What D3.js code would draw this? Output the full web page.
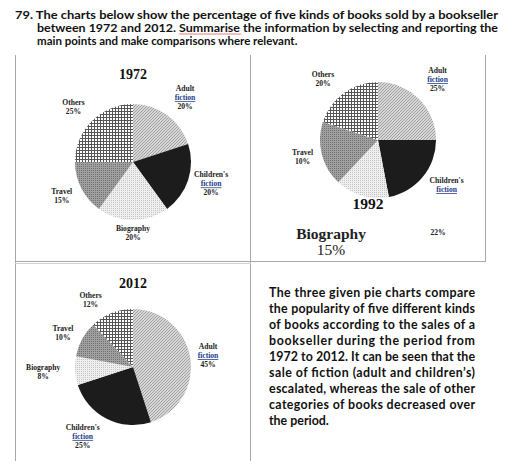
<!DOCTYPE html>
<html>
<head>
<meta charset="utf-8">
<script src="https://cdn.jsdelivr.net/npm/d3@7"></script>
<style>
  body { margin:0; background:#fff; }
  svg { display:block; }
</style>
</head>
<body>
<svg id="chart"></svg>
<script>
// data
var categories = ["Adult fiction", "Children's fiction", "Biography", "Travel", "Others"];
var nameLines = [["Adult","fiction"], ["Children's","fiction"], ["Biography"], ["Travel"], ["Others"]];

var values1972 = [20, 20, 20, 15, 25];
var labels1972 = ["20%", "20%", "20%", "15%", "25%"];

// 1992 slices as drawn (the travel label in the picture says 10%)
var values1992 = [25, 22, 15, 18, 20];
var labels1992 = ["25%", "22%", "15%", "10%", "20%"];

var values2012 = [45, 25, 8, 10, 12];
var labels2012 = ["45%", "25%", "8%", "10%", "12%"];

var titleLines = [
  "79. The charts below show the percentage of five kinds of books sold by a bookseller",
  "between 1972 and 2012. Summarise the information by selecting and reporting the",
  "main points and make comparisons where relevant."
];

var paragraph = [
  "The three given pie charts compare",
  "the popularity of five different kinds",
  "of books according to the sales of a",
  "bookseller during the period from",
  "1972 to 2012. It can be seen that the",
  "sale of fiction (adult and children\u2019s)",
  "escalated, whereas the sale of other",
  "categories of books decreased over",
  "the period."
];

var W = 512, H = 461;
var svg = d3.select("#chart").attr("width", W).attr("height", H);

var serif = "'Liberation Serif', 'DejaVu Serif', serif";
var sans = "Lato, 'Open Sans', 'Liberation Sans', sans-serif";

// fill patterns
var defs = svg.append("defs");
function pattern(id, size, bg, draw) {
  var p = defs.append("pattern").attr("id", id)
    .attr("patternUnits", "userSpaceOnUse")
    .attr("width", size).attr("height", size);
  p.append("rect").attr("width", size).attr("height", size).attr("fill", bg);
  draw(p);
}
pattern("pAdult", 3, "#d6d6d6", function(p) {
  p.append("path").attr("d", "M0,3 L3,0 M-1,1 L1,-1 M2,4 L4,2")
    .attr("stroke", "#9c9c9c").attr("stroke-width", 0.9);
});
pattern("pBio", 2, "#efefef", function(p) {
  p.append("rect").attr("width", 1).attr("height", 1).attr("fill", "#c4c4c4");
});
pattern("pTravel", 2, "#a0a0a0", function(p) {
  p.append("rect").attr("width", 1).attr("height", 1).attr("fill", "#727272");
});
pattern("pOthers", 3, "#ffffff", function(p) {
  p.append("rect").attr("width", 3).attr("height", 1).attr("fill", "#555");
  p.append("rect").attr("width", 1).attr("height", 3).attr("fill", "#555");
});
var fills = d3.scaleOrdinal()
  .domain(categories)
  .range(["url(#pAdult)", "#1c1c1c", "url(#pBio)", "url(#pTravel)", "url(#pOthers)"]);

// frame lines
var frame = svg.append("g").attr("stroke", "#a8a8a8").attr("stroke-width", 1);
frame.append("line").attr("x1", 15.5).attr("x2", 15.5).attr("y1", 55).attr("y2", H);
frame.append("line").attr("x1", 250.5).attr("x2", 250.5).attr("y1", 55).attr("y2", H);
frame.append("line").attr("x1", 485.5).attr("x2", 485.5).attr("y1", 55).attr("y2", 262);
frame.append("line").attr("x1", 15).attr("x2", 486).attr("y1", 261.5).attr("y2", 261.5);
frame.append("line").attr("x1", 15).attr("x2", 251).attr("y1", 263.5).attr("y2", 263.5).attr("stroke", "#d0d0d0");

// title
var title = svg.append("g").attr("font-family", sans).attr("font-weight", "bold")
  .attr("font-size", 11.5).attr("fill", "#111");
title.append("text").attr("x", 15).attr("y", 19)
  .attr("textLength", 483).attr("lengthAdjust", "spacingAndGlyphs").text(titleLines[0]);
var t2 = title.append("text").attr("x", 37).attr("y", 32)
  .attr("textLength", 461).attr("lengthAdjust", "spacingAndGlyphs")
  .text(titleLines[1]);
title.append("text").attr("x", 37).attr("y", 45).text(titleLines[2]);

// red squiggle under "Summarise"
var si = titleLines[1].indexOf("Summarise");
var x0 = t2.node().getStartPositionOfChar(si).x;
var x1 = t2.node().getEndPositionOfChar(si + 8).x;
var sq = d3.path();
var yy = 34.5;
sq.moveTo(x0, yy);
for (var sx = x0; sx < x1; sx += 2) {
  sq.lineTo(sx + 1, yy - 1);
  sq.lineTo(sx + 2, yy);
}
svg.append("path").attr("d", sq.toString()).attr("fill", "none")
  .attr("stroke", "#e03030").attr("stroke-width", 0.7);

// pie drawing
var pie = d3.pie().sort(null).value(function(d) { return d.v; });
var radius = 58;
var arc = d3.arc().innerRadius(0).outerRadius(radius);
var labelArc = d3.arc().innerRadius(80).outerRadius(80);

function drawPie(cfg) {
  var rows = categories.map(function(c, i) {
    return { name: c, lines: nameLines[i], v: cfg.values[i], pct: cfg.labels[i], i: i };
  });
  var g = svg.append("g").attr("transform", "translate(" + cfg.cx + "," + cfg.cy + ")");
  var arcs = pie(rows);

  g.selectAll("path.slice")
    .data(arcs)
    .enter()
    .append("path")
    .classed("slice", true)
    .attr("d", arc)
    .attr("fill", function(d) { return fills(d.data.name); });

  g.append("text")
    .attr("x", cfg.year.dx).attr("y", cfg.year.dy)
    .attr("text-anchor", "middle")
    .attr("font-family", serif)
    .attr("font-weight", cfg.year.weight)
    .attr("font-size", cfg.year.size)
    .attr("fill", "#111")
    .text(cfg.name);

  arcs.forEach(function(d) {
    var i = d.data.i;
    var c = labelArc.centroid(d);
    var n = cfg.nudge[i];
    var big = cfg.big && cfg.big.idx === i;
    var lines = d.data.lines.slice();
    if (!(cfg.split && cfg.split.idx === i)) lines.push(d.data.pct);
    var lh = big ? 16 : 9;
    var size = big ? 15.5 : 7.6;
    var x = c[0] + n[0], y = c[1] + n[1];
    if (big) { x = cfg.big.dx; y = cfg.big.dy; }
    var top = y - (lines.length - 1) * lh / 2 + size * 0.35;
    lines.forEach(function(l, k) {
      var ts = g.append("text")
        .attr("text-anchor", "middle")
        .attr("font-family", serif)
        .attr("font-weight", big && k > 0 ? "normal" : "bold")
        .attr("font-size", size)
        .attr("fill", "#222")
        .attr("x", x).attr("y", top + k * lh).text(l);
      if (l === "fiction") {
        ts.attr("fill", "#233c8c").attr("text-decoration", "underline");
      }
    });
    if (cfg.split && cfg.split.idx === i) {
      g.append("text")
        .attr("x", cfg.split.dx).attr("y", cfg.split.dy)
        .attr("text-anchor", "middle")
        .attr("font-family", serif).attr("font-weight", "bold")
        .attr("font-size", 7.6).attr("fill", "#222")
        .text(d.data.pct);
    }
  });
}

drawPie({
  name: "1972", cx: 133, cy: 162, values: values1972, labels: labels1972,
  year: { dx: 0, dy: -83, size: 14, weight: "bold" },
  nudge: [[5, 0], [2, -3], [0, -9], [0, -2], [-3, 1]]
});

drawPie({
  name: "1992", cx: 378, cy: 140, values: values1992, labels: labels1992,
  year: { dx: -10, dy: 69, size: 15.5, weight: "bold" },
  nudge: [[3, -4], [7, -6], [0, 0], [2, -3], [-8, 4]],
  big: { idx: 2, dx: -47, dy: 102 },
  split: { idx: 1, dx: 60, dy: 95 }
});

drawPie({
  name: "2012", cx: 133, cy: 367, values: values2012, labels: labels2012,
  year: { dx: 0, dy: -79, size: 14, weight: "bold" },
  nudge: [[-4, 1], [-14, -2], [-10, 0], [0, 4], [-13, 7]]
});

// descriptive paragraph, justified
var para = svg.append("g").attr("font-family", sans).attr("font-weight", "bold")
  .attr("font-size", 12.4).attr("fill", "#111");
paragraph.forEach(function(l, k) {
  var t = para.append("text").attr("x", 269).attr("y", 297 + k * 16).text(l);
  if (k < paragraph.length - 1) t.attr("textLength", 206).attr("lengthAdjust", "spacing");
});
</script>
</body>
</html>
